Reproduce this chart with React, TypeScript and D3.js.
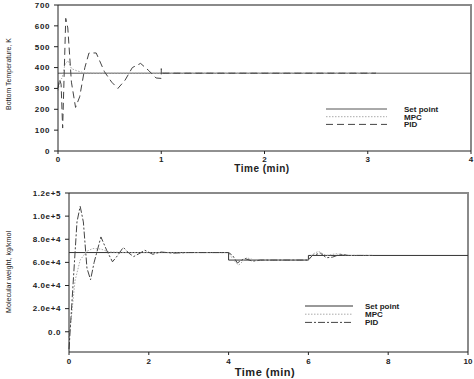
import React from "react";
import * as d3 from "d3";

// ---------- Top chart data ----------
const topXTicks = [0, 1, 2, 3, 4];
const topYTicks = [0, 100, 200, 300, 400, 500, 600, 700];
const topSetT = [0, 4];
const topSetV = [373, 373];
const topMpcT = [0, 0.02, 0.04, 0.07, 0.1, 0.13, 0.18, 0.25, 0.35, 3.1];
const topMpcV = [290, 340, 350, 420, 432, 395, 385, 375, 373, 373];
const topPidT = [0, 0.015, 0.03, 0.045, 0.075, 0.095, 0.13, 0.17, 0.21, 0.26, 0.3, 0.37, 0.45, 0.52, 0.58, 0.65, 0.72, 0.8, 0.88, 0.95, 1.0, 1.0, 1.005, 3.08];
const topPidV = [300, 345, 320, 110, 636, 590, 330, 209, 260, 400, 470, 470, 380, 330, 300, 340, 400, 420, 385, 350, 348, 395, 373, 373];

// ---------- Bottom chart data ----------
const botXTicks = [0, 2, 4, 6, 8, 10];
const botYTicks = [0, 2e4, 4e4, 6e4, 8e4, 1e5, 1.2e5];
const botYTickLabels = ["0.0", "2.0e+4", "4.0e+4", "6.0e+4", "8.0e+4", "1.0e+5", "1.2e+5"];
const botSetT = [0, 4, 4, 6, 6, 10];
const botSetV = [68500, 68500, 62000, 62000, 66000, 66000];
const botMpcT = [0, 0.07, 0.15, 0.28, 0.44, 0.6, 0.8, 1.0, 1.5, 4, 4.1, 4.25, 4.45, 4.7, 5.0, 6.0, 6.1, 6.25, 6.45, 6.7, 7.0, 7.6];
const botMpcV = [-5000, 16000, 44000, 62000, 69500, 72000, 71500, 69000, 68500, 68500, 63000, 57500, 64000, 61500, 62000, 62000, 67000, 69500, 66000, 67500, 66000, 66000];
const botPidT = [0, 0.1, 0.2, 0.28, 0.36, 0.45, 0.54, 0.63, 0.8, 0.95, 1.09, 1.22, 1.36, 1.5, 1.62, 1.78, 1.9, 2.1, 2.3, 2.6, 3, 4, 4.1, 4.22, 4.4, 4.6, 4.8, 6.0, 6.1, 6.3, 6.45, 6.6, 6.8, 7.0, 7.6];
const botPidV = [-15000, 40000, 95000, 108500, 95000, 55000, 45000, 60000, 82000, 70000, 60500, 66000, 73000, 68000, 65000, 68000, 70500, 67000, 69000, 68000, 68500, 68500, 66000, 59500, 63500, 61000, 62000, 62000, 66000, 68000, 64000, 64500, 67000, 66000, 66000];

const FONT = "'Liberation Sans', Arial, sans-serif";

type Series = { t: number[]; v: number[]; stroke: string; width: number; dash?: string };

function Panel(props: {
  x0: number; x1: number; y0: number; y1: number;
  xDomain: [number, number]; yDomain: [number, number];
  xTicks: number[]; yTicks: number[]; yTickLabels?: string[];
  series: Series[]; yLabel: string; yLabelCenter: number; yLabelLen: number;
  xLabelY: number; xLabelX: number; xLabelSize: number; xTickOffset: number;
  legendX0: number; legendX1: number; legendY: number; legendGap: number; legendTextX: number;
  legendSeries: Series[];
}) {
  const p = props;
  const xs = d3.scaleLinear().domain(p.xDomain).range([p.x0, p.x1]);
  const ys = d3.scaleLinear().domain(p.yDomain).range([p.y1, p.y0]);
  const mk = (s: Series) =>
    d3.line<number>().x((_, i) => xs(s.t[i])).y((d) => ys(d))(s.v) || "";
  const names = ["Set point", "MPC", "PID"];
  return (
    <g>
      <path d={`M${p.x0},${p.y0}H${p.x1}V${p.y1}`} fill="none" stroke="#8a8a8a" strokeWidth={2} />
      {p.series.map((s, i) => (
        <path key={i} d={mk(s)} fill="none" stroke={s.stroke} strokeWidth={s.width} strokeDasharray={s.dash} />
      ))}
      <line x1={p.x0} x2={p.x0} y1={p.y0} y2={p.y1} stroke="#222" strokeWidth={1} />
      <line x1={p.x0} x2={p.x1} y1={p.y1} y2={p.y1} stroke="#222" strokeWidth={1} />
      {p.yTicks.map((t, i) => (
        <g key={"y" + i}>
          <line x1={p.x0 - 4} x2={p.x0} y1={ys(t)} y2={ys(t)} stroke="#222" />
          <text x={p.x0 - 8} y={ys(t)} dy="0.35em" textAnchor="end" fontSize={8} fontWeight="bold" fill="#222" fontFamily={FONT} letterSpacing={0.6}>
            {p.yTickLabels ? p.yTickLabels[i] : String(t)}
          </text>
        </g>
      ))}
      {p.xTicks.map((t, i) => (
        <g key={"x" + i}>
          <line x1={xs(t)} x2={xs(t)} y1={p.y1} y2={p.y1 + 3} stroke="#222" />
          <text x={xs(t)} y={p.y1 + p.xTickOffset} textAnchor="middle" fontSize={8} fontWeight="bold" fill="#222" fontFamily={FONT}>
            {String(t)}
          </text>
        </g>
      ))}
      <text x={p.xLabelX} y={p.xLabelY} textAnchor="middle" fontSize={p.xLabelSize} fontWeight="bold" fill="#222" fontFamily={FONT} letterSpacing={0.5}>
        Time (min)
      </text>
      <text
        transform={`translate(11,${p.yLabelCenter}) rotate(-90)`}
        textAnchor="middle"
        fontSize={8}
        fill="#222"
        fontFamily={FONT}
        textLength={p.yLabelLen}
        lengthAdjust="spacingAndGlyphs"
      >
        {p.yLabel}
      </text>
      {p.legendSeries.map((s, i) => (
        <g key={"l" + i}>
          <line x1={p.legendX0} x2={p.legendX1} y1={p.legendY + i * p.legendGap} y2={p.legendY + i * p.legendGap} stroke={s.stroke} strokeWidth={s.width} strokeDasharray={s.dash} />
          <text x={p.legendTextX} y={p.legendY + i * p.legendGap} dy="0.35em" fontSize={8} fontWeight="bold" fill="#222" fontFamily={FONT}>
            {names[i]}
          </text>
        </g>
      ))}
    </g>
  );
}

export default function App() {
  const topSeries: Series[] = [
    { t: topSetT, v: topSetV, stroke: "#555", width: 1 },
    { t: topMpcT, v: topMpcV, stroke: "#aaa", width: 1, dash: "1.5,1.5" },
    { t: topPidT, v: topPidV, stroke: "#444", width: 1, dash: "7,4" },
  ];
  const botSeries: Series[] = [
    { t: botSetT, v: botSetV, stroke: "#333", width: 1 },
    { t: botMpcT, v: botMpcV, stroke: "#aaa", width: 1, dash: "1.5,1.5" },
    { t: botPidT, v: botPidV, stroke: "#444", width: 1, dash: "7,2,2,2" },
  ];
  return (
    <svg width={474} height={379} style={{ position: "absolute", left: 0, top: 0, background: "#fff" }}>
      <Panel
        x0={58} x1={471} y0={5} y1={151}
        xDomain={[0, 4]} yDomain={[0, 700]}
        xTicks={topXTicks} yTicks={topYTicks}
        series={topSeries}
        yLabel="Bottom Temperature, K" yLabelCenter={74} yLabelLen={72}
        xLabelX={262} xLabelY={172} xLabelSize={10} xTickOffset={11}
        legendX0={326} legendX1={387} legendY={109} legendGap={7.7} legendTextX={404}
        legendSeries={topSeries}
      />
      <Panel
        x0={69} x1={468} y0={193} y1={352}
        xDomain={[0, 10]} yDomain={[-17500, 120000]}
        xTicks={botXTicks} yTicks={botYTicks} yTickLabels={botYTickLabels}
        series={botSeries}
        yLabel="Molecular weight, kg/kmol" yLabelCenter={272} yLabelLen={82}
        xLabelX={265} xLabelY={376} xLabelSize={11} xTickOffset={12}
        legendX0={305} legendX1={353} legendY={306} legendGap={8.2} legendTextX={365}
        legendSeries={botSeries}
      />
    </svg>
  );
}
